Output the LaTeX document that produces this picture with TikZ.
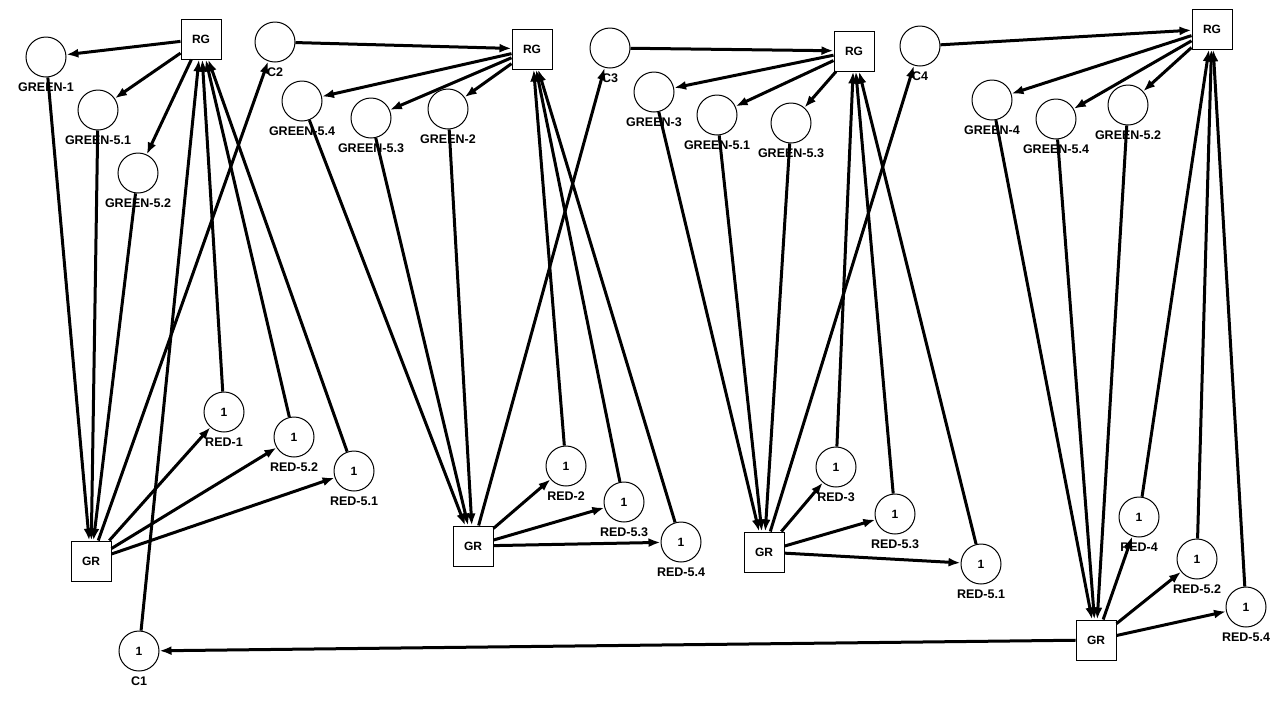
\documentclass[tikz,border=0pt]{standalone}
\usepackage{fontspec}
\setmainfont{Liberation Sans}
\usetikzlibrary{arrows.meta}

\begin{document}
\begin{tikzpicture}[->,
            >={Latex[length=12pt,width=9pt]},
            x=1pt,y=-1pt,
            line width=3pt,
            place/.style={circle,draw,line width=1pt,minimum size=40pt,inner sep=0pt,
                          fill=white,font=\bfseries\fontsize{12}{12}\selectfont},
            trans/.style={rectangle,draw,line width=1pt,minimum size=40pt,inner sep=0pt,
                          fill=white,font=\bfseries\fontsize{12}{12}\selectfont},
            every label/.style={font=\bfseries\fontsize{12.5}{12.5}\selectfont,inner sep=1pt},
            label distance=3pt]

        \fill[white] (0,0) rectangle (1280,724);
        \useasboundingbox (0,0) rectangle (1280,724);

        % group 1
        \node[trans] (RG1) at (201,39)  {RG};
        \node[trans] (GR1) at (91,561)  {GR};
        \node[place,label=below:GREEN-1]   (g1a)  at (46,57)   {};
        \node[place,label=below:GREEN-5.1] (g51a) at (98,110)  {};
        \node[place,label=below:GREEN-5.2] (g52a) at (138,173) {};
        \node[place,label=below:RED-1]     (r1a)  at (224,412) {1};
        \node[place,label=below:RED-5.2]   (r52a) at (294,437) {1};
        \node[place,label=below:RED-5.1]   (r51a) at (354,471) {1};
        \node[place,label=below:C1]        (C1)   at (139,651) {1};
        \node[place,label=below:C2]        (C2)   at (275,42)  {};

        % group 2
        \node[trans] (RG2) at (532,49)  {RG};
        \node[trans] (GR2) at (473,546) {GR};
        \node[place,label=below:GREEN-5.4] (g54b) at (302,101) {};
        \node[place,label=below:GREEN-5.3] (g53b) at (371,118) {};
        \node[place,label=below:GREEN-2]   (g2b)  at (448,109) {};
        \node[place,label=below:RED-2]     (r2b)  at (566,466) {1};
        \node[place,label=below:RED-5.3]   (r53b) at (624,502) {1};
        \node[place,label=below:RED-5.4]   (r54b) at (681,542) {1};
        \node[place,label=below:C3]        (C3)   at (610,48)  {};

        % group 3
        \node[trans] (RG3) at (854,51)  {RG};
        \node[trans] (GR3) at (764,552) {GR};
        \node[place,label=below:GREEN-3]   (g3c)  at (654,92)  {};
        \node[place,label=below:GREEN-5.1] (g51c) at (717,115) {};
        \node[place,label=below:GREEN-5.3] (g53c) at (791,123) {};
        \node[place,label=below:RED-3]     (r3c)  at (836,467) {1};
        \node[place,label=below:RED-5.3]   (r53c) at (895,514) {1};
        \node[place,label=below:RED-5.1]   (r51c) at (981,564) {1};
        \node[place,label=below:C4]        (C4)   at (920,46)  {};

        % group 4
        \node[trans] (RG4) at (1212,29)  {RG};
        \node[trans] (GR4) at (1096,640) {GR};
        \node[place,label=below:GREEN-4]   (g4d)  at (992,100)  {};
        \node[place,label=below:GREEN-5.4] (g54d) at (1056,119) {};
        \node[place,label=below:GREEN-5.2] (g52d) at (1128,105) {};
        \node[place,label=below:RED-4]     (r4d)  at (1139,517) {1};
        \node[place,label=below:RED-5.2]   (r52d) at (1197,559) {1};
        \node[place,label=below:RED-5.4]   (r54d) at (1246,607) {1};

        \path (RG1) edge (g1a) edge (g51a) edge (g52a)
              (g1a) edge (GR1) (g51a) edge (GR1) (g52a) edge (GR1)
              (GR1) edge (r1a) edge (r52a) edge (r51a) edge (C2)
              (r1a) edge (RG1) (r52a) edge (RG1) (r51a) edge (RG1)
              (C1)  edge (RG1)
              (C2)  edge (RG2)
              (RG2) edge (g54b) edge (g53b) edge (g2b)
              (g54b) edge (GR2) (g53b) edge (GR2) (g2b) edge (GR2)
              (GR2) edge (r2b) edge (r53b) edge (r54b) edge (C3)
              (r2b) edge (RG2) (r53b) edge (RG2) (r54b) edge (RG2)
              (C3)  edge (RG3)
              (RG3) edge (g3c) edge (g51c) edge (g53c)
              (g3c) edge (GR3) (g51c) edge (GR3) (g53c) edge (GR3)
              (GR3) edge (r3c) edge (r53c) edge (r51c) edge (C4)
              (r3c) edge (RG3) (r53c) edge (RG3) (r51c) edge (RG3)
              (C4)  edge (RG4)
              (RG4) edge (g4d) edge (g54d) edge (g52d)
              (g4d) edge (GR4) (g54d) edge (GR4) (g52d) edge (GR4)
              (GR4) edge (r4d) edge (r52d) edge (r54d) edge (C1)
              (r4d) edge (RG4) (r52d) edge (RG4) (r54d) edge (RG4);

    \end{tikzpicture}
\end{document}
